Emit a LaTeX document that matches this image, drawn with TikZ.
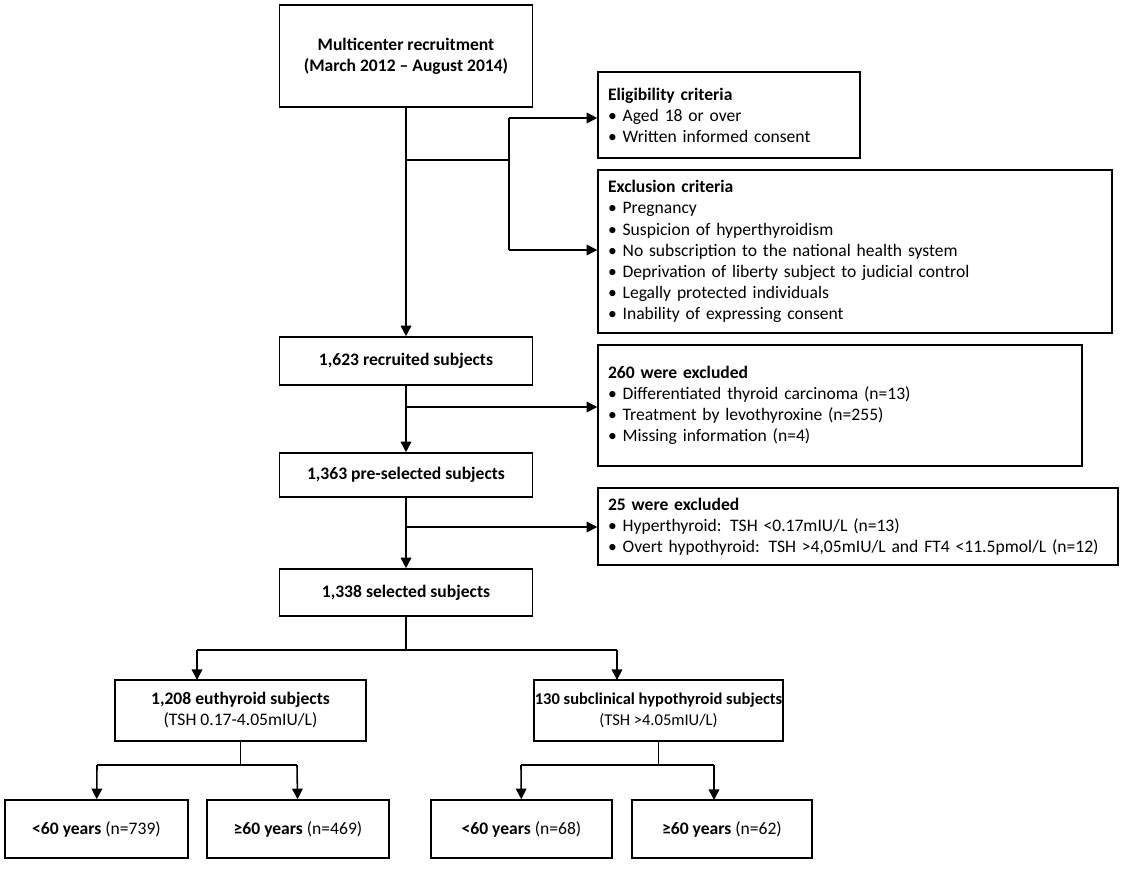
\documentclass[tikz,border=0pt]{standalone}
\usepackage{fontspec}
\setmainfont{Carlito}
\usetikzlibrary{arrows.meta}

\begin{document}
\begin{tikzpicture}[x=0.02cm,y=-0.02cm,font=\fontsize{10}{12}\selectfont]
	\tikzstyle{box} = [draw,line width=0.9pt,align=center,inner sep=0pt]
	\tikzstyle{listbox} = [draw,line width=0.9pt,align=left,inner xsep=0.2cm,inner ysep=0pt]
	\tikzstyle{flow} = [line width=0.9pt,-{Triangle[length=6pt,width=6pt]}]
	\tikzstyle{plain} = [line width=0.9pt]

	\useasboundingbox (0,0) rectangle (1137,873);

	% Main column
	\node[box,minimum width=5.06cm,minimum height=2.04cm] (recruit) at (406,56)
		{\textbf{Multicenter recruitment}\\\textbf{(March 2012 -- August 2014)}};
	\node[box,minimum width=5.06cm,minimum height=0.96cm] (rec) at (406,361) {\textbf{1,623 recruited subjects}};
	\node[box,minimum width=5.06cm,minimum height=0.88cm] (pre) at (406,475) {\textbf{1,363 pre-selected subjects}};
	\node[box,minimum width=5.06cm,minimum height=0.94cm] (sel) at (406,592.5) {\textbf{1,338 selected subjects}};

	% Side boxes
	\node[listbox,text width=4.84cm,minimum height=1.72cm] (elig) at (729,115)
		{\textbf{Eligibility criteria}\\• Aged 18 or over\\• Written informed consent};
	\node[listbox,text width=9.88cm,minimum height=3.26cm] (excl) at (855,251.5)
		{\textbf{Exclusion criteria}\\• Pregnancy\\• Suspicion of hyperthyroidism\\
		• No subscription to the national health system\\
		• Deprivation of liberty subject to judicial control\\
		• Legally protected individuals\\• Inability of expressing consent};
	\node[listbox,text width=9.28cm,minimum height=2.42cm] (exa) at (840,405.5)
		{\textbf{260 were excluded}\\• Differentiated thyroid carcinoma (n=13)\\
		• Treatment by levothyroxine (n=255)\\• Missing information (n=4)};
	\node[listbox,text width=10.0cm,minimum height=1.54cm] (exb) at (858,526.5)
		{\textbf{25 were excluded}\\• Hyperthyroid: TSH <0.17mIU/L (n=13)\\
		• Overt hypothyroid: TSH >4,05mIU/L and FT4 <11.5pmol/L (n=12)};

	% Groups
	\node[box,minimum width=5.02cm,minimum height=1.22cm] (eu) at (240.5,710.5)
		{\textbf{1,208 euthyroid subjects}\\(TSH 0.17-4.05mIU/L)};
	\node[box,minimum width=4.98cm,minimum height=1.22cm,font=\fontsize{9.4}{12}\selectfont] (sub) at (658.5,710.5)
		{\textbf{130 subclinical hypothyroid subjects}\\(TSH >4.05mIU/L)};
	\node[box,minimum width=3.66cm,minimum height=1.16cm] (eulow) at (96.5,829) {\textbf{<60 years} (n=739)};
	\node[box,minimum width=3.64cm,minimum height=1.16cm] (euhigh) at (298,829) {\textbf{≥60 years} (n=469)};
	\node[box,minimum width=3.62cm,minimum height=1.16cm] (sublow) at (521.5,829) {\textbf{<60 years} (n=68)};
	\node[box,minimum width=3.60cm,minimum height=1.16cm] (subhigh) at (722,829) {\textbf{≥60 years} (n=62)};

	% Connectors
	\draw[flow] (recruit) -- (rec);
	\draw[plain] (406,160) -- (509,160);
	\draw[plain] (509,118) -- (509,250);
	\draw[flow] (509,118) -- (elig.west |- 0,118);
	\draw[flow] (509,250) -- (excl.west |- 0,250);

	\draw[flow] (rec) -- (pre);
	\draw[flow] (406,407) -- (exa.west |- 0,407);
	\draw[flow] (pre) -- (sel);
	\draw[flow] (406,527) -- (exb.west |- 0,527);

	\draw[plain] (sel) -- (406,650);
	\draw[plain] (197,650) -- (617,650);
	\draw[flow] (197,650) -- (197,680);
	\draw[flow] (617,650) -- (617,680);

	\draw[plain] (eu) -- (eu.south |- 0,765);
	\draw[plain] (97,765) -- (297,765);
	\draw[flow] (97,765) -- (eulow);
	\draw[flow] (297,765) -- (euhigh);

	\draw[plain] (sub) -- (sub.south |- 0,765);
	\draw[plain] (521,765) -- (714,765);
	\draw[flow] (521,765) -- (sublow);
	\draw[flow] (714,765) -- (714,800);
\end{tikzpicture}
\end{document}
